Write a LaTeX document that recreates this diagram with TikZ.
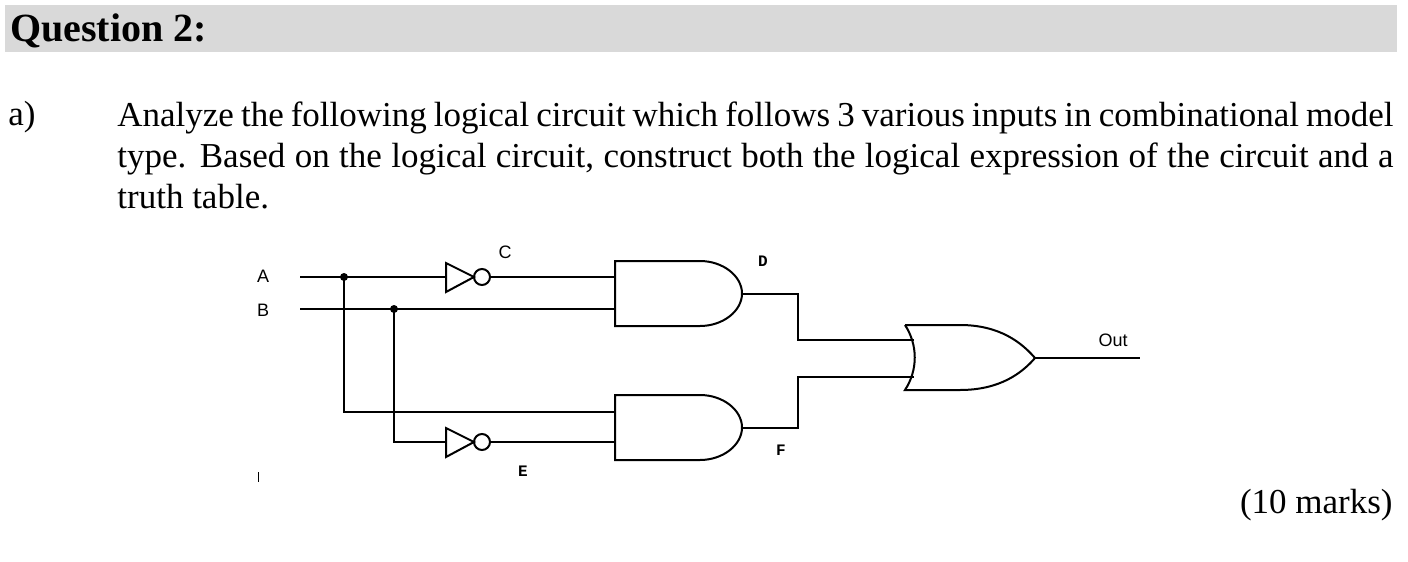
\documentclass[tikz,border=0pt]{standalone}
\usepackage{fontspec}
\setmainfont{Liberation Serif}
\newfontfamily\cour{Liberation Mono}
\newfontfamily\ars{Liberation Sans}
\begin{document}
\begin{tikzpicture}[x=0.5pt,y=-0.5pt,
  wire/.style={line width=1pt,line join=miter},
  sml/.style={font=\ars\fontsize{9}{10}\selectfont},
  lbl/.style={font=\cour\bfseries\fontsize{8}{9}\selectfont},
  body/.style={font=\fontsize{17.5}{20.5}\selectfont}]
\useasboundingbox (0,0) rectangle (1408,562);
\fill[gray!30] (5,5) rectangle (1397,52);
\node[anchor=west,font=\bfseries\fontsize{20}{22}\selectfont] (q) at (3,31) {Question 2:};
\node[anchor=north west,body,inner sep=0] (a) at (8,101) {a)};
\node[anchor=north west,body,inner sep=0,text width=638pt,align=justify] (p) at (117,101)
 {Analyze the following logical circuit which follows 3 various inputs in combinational model type. Based on the logical circuit, construct both the logical expression of the circuit and a truth table.};
\node[anchor=east,body,inner sep=0] (m) at (1393,505) {(10 marks)};
% labels
\node[sml] (A) at (263,276) {A};
\node[sml] (B) at (263,310) {B};
\node[sml] (C) at (505,252) {C};
\node[lbl] (D) at (763,261) {D};
\node[lbl] (F) at (781,450) {F};
\node[lbl] (E) at (523,471) {E};
\node[sml] (O) at (1113,340) {Out};
\draw[thin] (258,472) -- (258,482);
% gates
\draw[wire] (615,261) -- (700,261) .. controls (723,261) and (742,276) .. (742,293.5) .. controls (742,311) and (723,326) .. (700,326) -- (615,326) -- cycle;
\draw[wire] (615,395) -- (700,395) .. controls (723,395) and (742,410) .. (742,427.5) .. controls (742,445) and (723,460) .. (700,460) -- (615,460) -- cycle;
\draw[wire] (905,325) -- (960,325) .. controls (1000,325) and (1022,343) .. (1035,358) .. controls (1022,373) and (1000,390) .. (960,390) -- (905,390) .. controls (918,370) and (918,345) .. (905,325);
\draw[wire] (446,263) -- (446,292) -- (474,277) -- cycle;
\draw[wire] (482,277) circle[radius=8];
\draw[wire] (446,428) -- (446,457) -- (474,442) -- cycle;
\draw[wire] (482,442) circle[radius=8];
% wires
\draw[wire] (300,277) -- (446,277);
\draw[wire] (490,277) -- (615,277);
\draw[wire] (300,309) -- (615,309);
\draw[wire] (344,277) -- (344,412) -- (615,412);
\draw[wire] (394,309) -- (394,442) -- (446,442);
\draw[wire] (490,442) -- (615,442);
\draw[wire] (742,293.5) -- (798,293.5) -- (798,340) -- (914,340);
\draw[wire] (742,427.5) -- (798,427.5) -- (798,377) -- (914,377);
\draw[wire] (1035,358) -- (1140,358);
\fill (344,277) circle[radius=4];
\fill (394,309) circle[radius=4];
\end{tikzpicture}
\end{document}
